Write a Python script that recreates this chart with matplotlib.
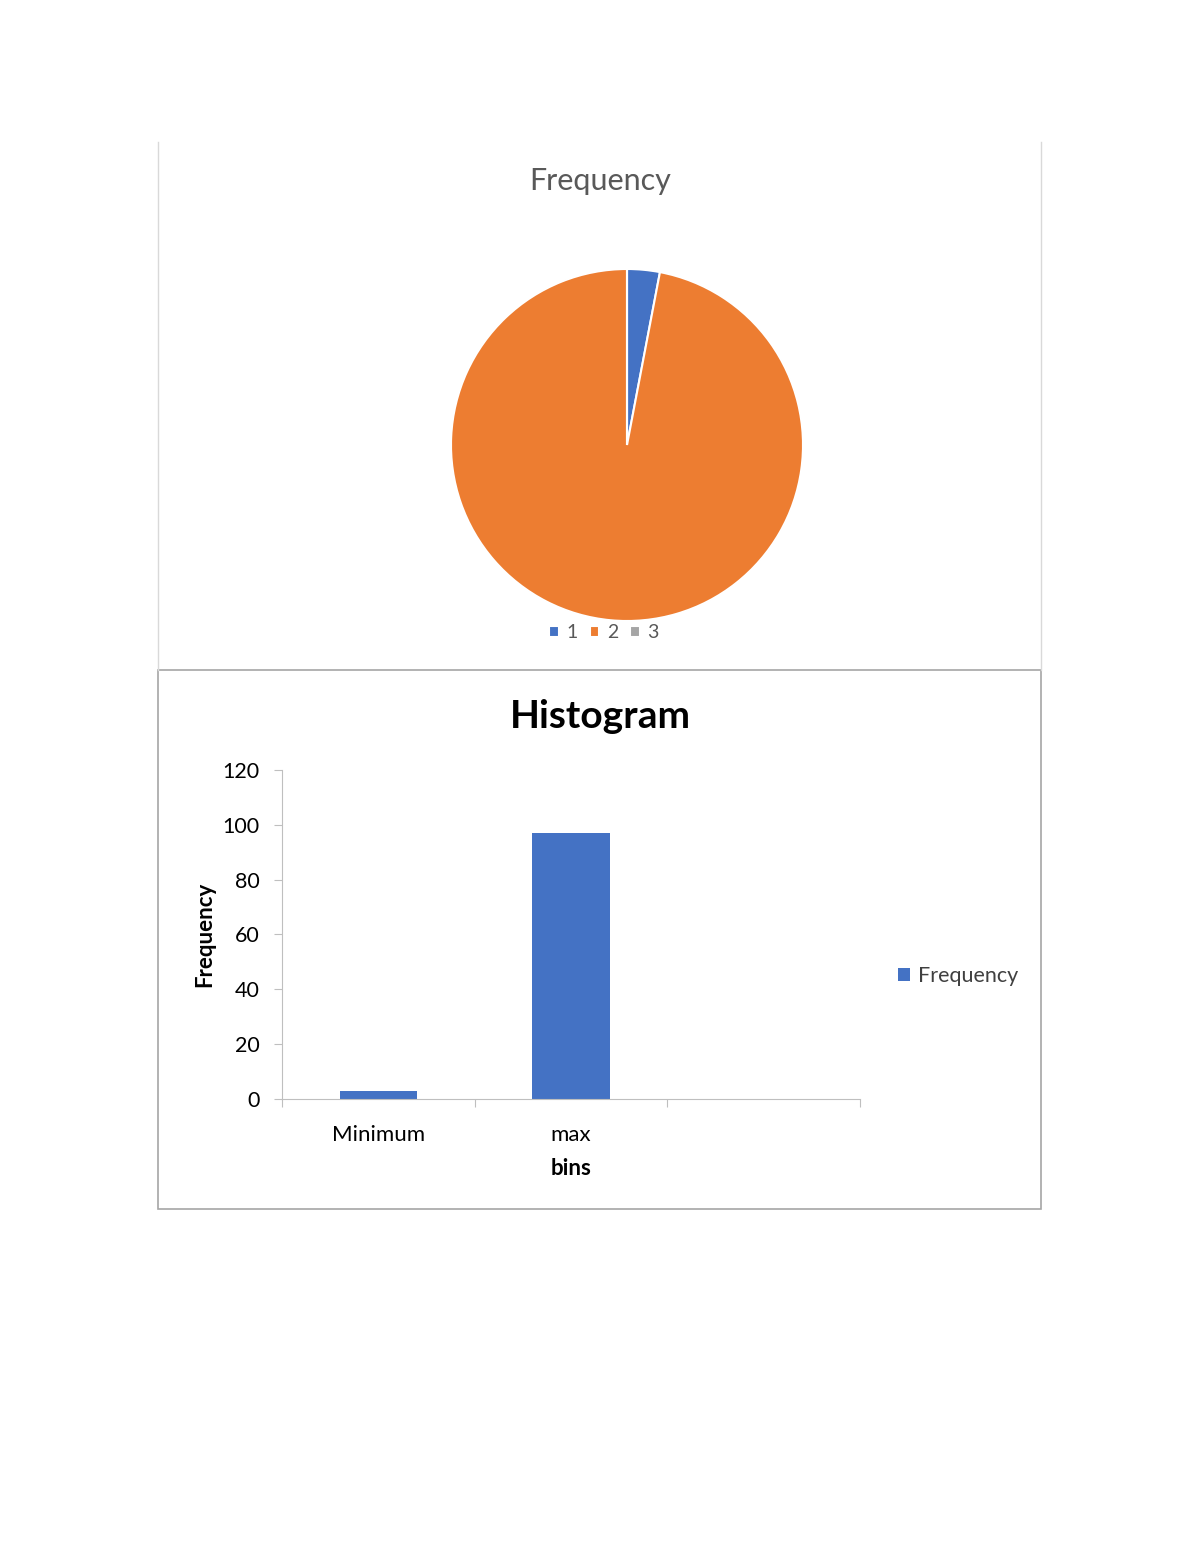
import matplotlib
matplotlib.use("Agg")
import matplotlib.pyplot as plt
from matplotlib.patches import Rectangle
from matplotlib.lines import Line2D

plt.rcParams['font.family'] = ['Lato', 'DejaVu Sans']

# ---- data ----
pie_labels = ["1", "2", "3"]
pie_values = [3, 97, 0]
pie_colors = ["#4472C4", "#ED7D31", "#A5A5A5"]

bins = ["Minimum", "max", ""]
freq = [3, 97, 0]
yticks = [0, 20, 40, 60, 80, 100, 120]

W, H = 1200, 1553
fig = plt.figure(figsize=(W / 100, H / 100), dpi=100)

def fx(x):
    return x / W

def fy(y):
    return 1 - y / H

def rect(l, t, r, b):
    return [fx(l), fy(b), fx(r) - fx(l), fy(t) - fy(b)]

# panel borders
fig.add_artist(Line2D([fx(158), fx(158)], [fy(142), fy(670)], color="#D9D9D9", lw=1))
fig.add_artist(Line2D([fx(1041), fx(1041)], [fy(142), fy(670)], color="#D9D9D9", lw=1))
fig.add_artist(Rectangle((fx(158), fy(1209)), fx(1041) - fx(158), fy(670) - fy(1209),
                         transform=fig.transFigure, fill=False, edgecolor="#A6A6A6", lw=1.2))

# ---- pie ----
axp = fig.add_axes(rect(451, 269, 803, 621))
wedges, _ = axp.pie(pie_values, colors=pie_colors, startangle=90, counterclock=False,
                    wedgeprops=dict(edgecolor="white", linewidth=1.5))
axp.set_aspect("equal")
axp.set_xlim(-1.0, 1.0)
axp.set_ylim(-1.0, 1.0)
fig.text(fx(600), fy(181), "Frequency", ha="center", va="center", fontsize=22, color="#595959")
fig.legend(wedges, pie_labels, loc="center", bbox_to_anchor=(fx(604), fy(633)), ncol=3,
           frameon=False, fontsize=14, labelcolor="#595959", handlelength=0.5, handleheight=0.5,
           handletextpad=0.4, columnspacing=0.6)

# ---- histogram ----
axh = fig.add_axes(rect(282, 770, 860, 1099))
bars = axh.bar(range(len(bins)), freq, width=0.4, color="#4472C4", label="Frequency")
axh.set_xlim(-0.5, len(bins) - 0.5)
axh.set_ylim(0, 120)
axh.set_yticks(yticks)
axh.set_xticks([i - 0.5 for i in range(len(bins) + 1)])
axh.set_xticklabels([])
axh.set_xticks(range(len(bins)), minor=True)
axh.set_xticklabels(bins, minor=True)
axh.tick_params(axis="x", which="minor", length=0, pad=19, labelsize=16)
axh.tick_params(axis="x", which="major", length=6, color="#BFBFBF", direction="out")
axh.tick_params(axis="y", length=6, color="#BFBFBF", labelsize=15.5, pad=10)
for s in ["top", "right"]:
    axh.spines[s].set_visible(False)
for s in ["left", "bottom"]:
    axh.spines[s].set_color("#BFBFBF")
axh.set_ylabel("Frequency", fontsize=16, fontweight="bold", labelpad=5)
axh.set_xlabel("bins", fontsize=16, fontweight="bold", labelpad=9)
fig.text(fx(600), fy(716), "Histogram", ha="center", va="center", fontsize=28, fontweight="bold")
fig.legend(handles=[bars], labels=["Frequency"], loc="center left", bbox_to_anchor=(fx(879), fy(976)),
           frameon=False, fontsize=15.5, labelcolor="#404040", handlelength=0.55, handleheight=0.55,
           handletextpad=0.35)

fig.savefig("out.png", dpi=100)
